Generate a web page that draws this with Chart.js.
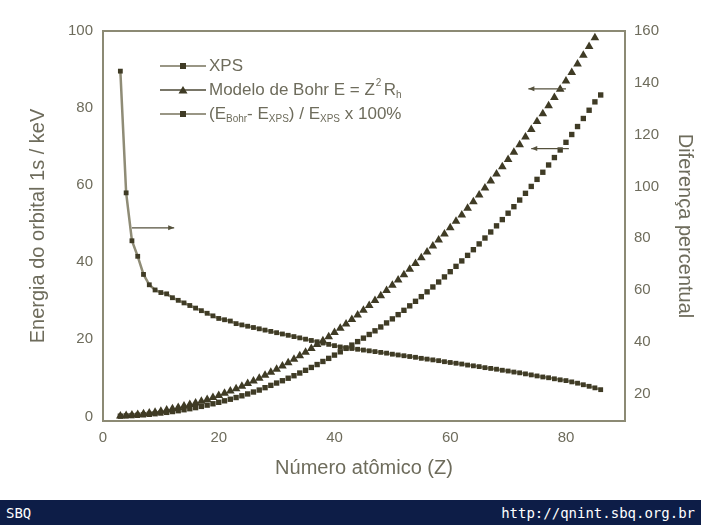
<!DOCTYPE html>
<html lang="pt">
<head>
<meta charset="UTF-8">
<title>Energia do orbital 1s</title>
<script src="https://cdn.jsdelivr.net/npm/chart.js"></script>
<style>
  body { margin: 0; background: #fff; width: 701px; height: 525px; overflow: hidden; }
  #wrap { width: 701px; height: 500px; position: relative; }
  .bar { height: 25px; background: #0d1d47; color: #fff; font-family: "DejaVu Sans Mono", monospace;
         font-size: 14px; display: flex; justify-content: space-between; align-items: center; padding: 0 6px; }
</style>
</head>
<body>
<div id="wrap"><canvas id="myChart" width="701" height="500"></canvas></div>
<div class="bar"><span>SBQ</span><span>http://qnint.sbq.org.br</span></div>
<script>
// atomic number Z = 3..86
var zs = [];
for (var z = 3; z <= 86; z++) zs.push(z);

// Bohr model E = Z^2 Rh (keV)
var bohr = [0.12,0.22,0.34,0.49,0.67,0.87,1.10,1.36,1.65,1.96,2.30,2.67,3.06,3.48,3.93,4.41,4.91,5.44,
  6.00,6.58,7.19,7.83,8.50,9.19,9.91,10.66,11.44,12.24,13.07,13.93,14.81,15.72,16.66,17.63,18.62,19.64,
  20.69,21.76,22.86,23.99,25.15,26.33,27.54,28.78,30.04,31.33,32.65,34.00,35.37,36.77,38.20,39.66,41.14,
  42.65,44.19,45.75,47.34,48.96,50.61,52.28,53.98,55.71,57.46,59.24,61.05,62.89,64.75,66.64,68.56,70.50,
  72.47,74.47,76.50,78.55,80.63,82.74,84.88,87.04,89.23,91.45,93.69,95.96,98.26,100.59];

// XPS (keV)
var xps = [0.05,0.11,0.19,0.28,0.40,0.54,0.69,0.86,1.04,1.25,1.47,1.72,1.99,2.27,2.59,2.92,3.27,3.65,
  4.04,4.45,4.89,5.34,5.82,6.32,6.83,7.45,8.05,8.65,9.25,9.90,10.55,11.25,11.95,12.70,13.45,14.25,
  15.05,15.90,16.75,17.65,18.50,19.40,20.30,21.25,22.20,23.20,24.25,25.30,26.40,27.52,28.68,29.86,31.07,
  32.31,33.58,34.87,36.19,37.55,38.93,40.34,41.78,43.25,44.75,46.28,47.85,49.44,51.06,52.72,54.41,56.13,
  57.88,59.67,61.50,63.35,65.23,67.16,69.12,71.11,73.14,75.21,77.30,79.44,81.61,83.40];

// (E_Bohr - E_XPS) / E_XPS x 100 %
var diff = [144.5,97.5,79,73,66,62,60,59,58.5,57,56,55,54,53,52,51,50,49,48.5,48,47,46.5,46,45.5,45,44.5,
  44,43.5,43,42.5,42,41.5,41,40.5,40,39.5,39,38.5,38,37.7,37.4,37.1,36.8,36.5,36.2,35.9,35.6,35.2,34.9,
  34.6,34.3,34,33.6,33.3,33,32.7,32.3,32,31.7,31.4,31,30.7,30.4,30,29.7,29.4,29,28.7,28.3,28,27.6,27.2,
  26.8,26.4,26.1,25.7,25.3,25,24.5,24,23.4,22.8,22.2,21.5];

var xTicks = [0, 20, 40, 60, 80];
var leftTicks = [0, 20, 40, 60, 80, 100];
var rightTicks = [20, 40, 60, 80, 100, 120, 140, 160];

var dark = '#3f3b25';
var axisCol = '#8c8a74';
var textCol = '#6e6c5c';
var font = "'Liberation Sans', Arial, sans-serif";

function pts(ys) { return zs.map(function (z, i) { return { x: z, y: ys[i] }; }); }
function fixTicks(list) { return function (s) { s.ticks = list.map(function (v) { return { value: v }; }); }; }

// legend with subscripts and the arrows
var extras = {
  id: 'extras',
  afterDraw: function (chart) {
    var c = chart.ctx, x = chart.scales.x, yl = chart.scales.y, yr = chart.scales.y2;
    c.save();
    c.fillStyle = textCol;
    c.textBaseline = 'middle';
    function row(y, line, marker) {
      c.strokeStyle = line; c.lineWidth = 1.5;
      c.beginPath(); c.moveTo(160, y); c.lineTo(206, y); c.stroke();
      c.fillStyle = dark;
      if (marker === 'tri') { c.beginPath(); c.moveTo(183, y - 4); c.lineTo(187.5, y + 3.5); c.lineTo(178.5, y + 3.5); c.fill(); }
      else c.fillRect(180, y - 3, 6, 6);
      c.fillStyle = textCol;
    }
    row(66, '#77735c', 'sq'); row(90, '#4d4936', 'tri'); row(114, '#77735c', 'sq');
    var f = '17px ' + font, fs = '10px ' + font;
    c.font = f;
    c.fillText('XPS', 209, 66);
    var t = 'Modelo de Bohr E = Z';
    c.fillText(t, 209, 90);
    var w = c.measureText(t).width;
    c.font = fs; c.fillText('2', 209 + w + 1, 83);
    c.font = f; c.fillText('R', 209 + w + 9, 90);
    var w2 = c.measureText('R').width;
    c.font = fs; c.fillText('h', 209 + w + 9 + w2, 95);
    var px = 209;
    function put(s, small, dy) {
      c.font = small ? fs : f; c.fillText(s, px, 114 + dy); px += c.measureText(s).width;
    }
    put('(E', false, 0); put('Bohr', true, 5); put('- E', false, 0); put('XPS', true, 5);
    put(') / E', false, 0); put('XPS', true, 5); put(' x 100%', false, 0);
    function arrow(x1, y1, x2, y2) {
      c.strokeStyle = '#55513c'; c.lineWidth = 1.2;
      c.beginPath(); c.moveTo(x1, y1); c.lineTo(x2, y2); c.stroke();
      var d = x2 > x1 ? 1 : -1;
      c.fillStyle = '#55513c';
      c.beginPath(); c.moveTo(x2, y2); c.lineTo(x2 - d * 6, y2 - 2.5); c.lineTo(x2 - d * 6, y2 + 2.5); c.fill();
    }
    arrow(x.getPixelForValue(5), yr.getPixelForValue(84), x.getPixelForValue(12.3), yr.getPixelForValue(84));
    arrow(x.getPixelForValue(80), yl.getPixelForValue(85), x.getPixelForValue(73.5), yl.getPixelForValue(85));
    arrow(x.getPixelForValue(80.5), yl.getPixelForValue(69.5), x.getPixelForValue(74), yl.getPixelForValue(69.5));
    c.restore();
  }
};

new Chart(document.getElementById('myChart').getContext('2d'), {
  type: 'scatter',
  data: {
    datasets: [
      { label: 'XPS', data: pts(xps), yAxisID: 'y', showLine: false,
        pointStyle: 'rect', pointRadius: 3.8, backgroundColor: dark, borderColor: dark, borderWidth: 0 },
      { label: 'Modelo de Bohr', data: pts(bohr), yAxisID: 'y', showLine: false,
        pointStyle: 'triangle', pointRadius: 5, backgroundColor: dark, borderColor: dark, borderWidth: 0 },
      { label: 'Diferença', data: pts(diff), yAxisID: 'y2', showLine: true,
        borderColor: '#8f8c76', borderWidth: 2.5, pointStyle: 'rect', pointRadius: 3.4,
        backgroundColor: dark, pointBorderWidth: 0 }
    ]
  },
  options: {
    responsive: false,
    animation: false,
    layout: { padding: { top: 31, left: 0, right: 0, bottom: 0 } },
    plugins: { legend: { display: false }, tooltip: { enabled: false } },
    scales: {
      x: {
        type: 'linear', min: 0, max: 90.2,
        afterBuildTicks: fixTicks(xTicks),
        afterFit: function (s) { s.height = 79; },
        grid: { display: false, drawTicks: true, tickLength: 6, tickColor: axisCol },
        border: { color: axisCol, width: 2 },
        ticks: { color: textCol, font: { family: font, size: 15 }, padding: 2 },
        title: { display: true, text: 'Número atômico (Z)', color: textCol, font: { family: font, size: 20 }, padding: { top: 0, bottom: 20 } }
      },
      y: {
        position: 'left', min: -1.2, max: 100,
        afterBuildTicks: fixTicks(leftTicks),
        afterFit: function (s) { s.width = 103; },
        grid: { display: false, drawTicks: true, tickLength: 6, tickColor: axisCol },
        border: { color: axisCol, width: 2 },
        ticks: { color: textCol, font: { family: font, size: 15 }, padding: 4 },
        title: { display: true, text: 'Energia do orbital 1s / keV', color: textCol, font: { family: font, size: 20 }, padding: { top: 26, bottom: 0 } }
      },
      y2: {
        position: 'right', min: 9.4, max: 160,
        afterBuildTicks: fixTicks(rightTicks),
        afterFit: function (s) { s.width = 76; },
        grid: { display: false, drawTicks: true, tickLength: 6, tickColor: axisCol },
        border: { color: axisCol, width: 2 },
        ticks: { color: textCol, font: { family: font, size: 15 }, padding: 3 },
        title: { display: true, text: 'Diferença percentual', color: textCol, font: { family: font, size: 20 }, padding: { top: 4, bottom: 2 } }
      }
    }
  },
  plugins: [extras, {
    id: 'frame',
    afterDraw: function (chart) {
      var a = chart.chartArea, c = chart.ctx;
      c.save(); c.strokeStyle = axisCol; c.lineWidth = 2;
      c.beginPath(); c.moveTo(a.left, a.top); c.lineTo(a.right, a.top); c.stroke(); c.restore();
    }
  }]
});
</script>
</body>
</html>
